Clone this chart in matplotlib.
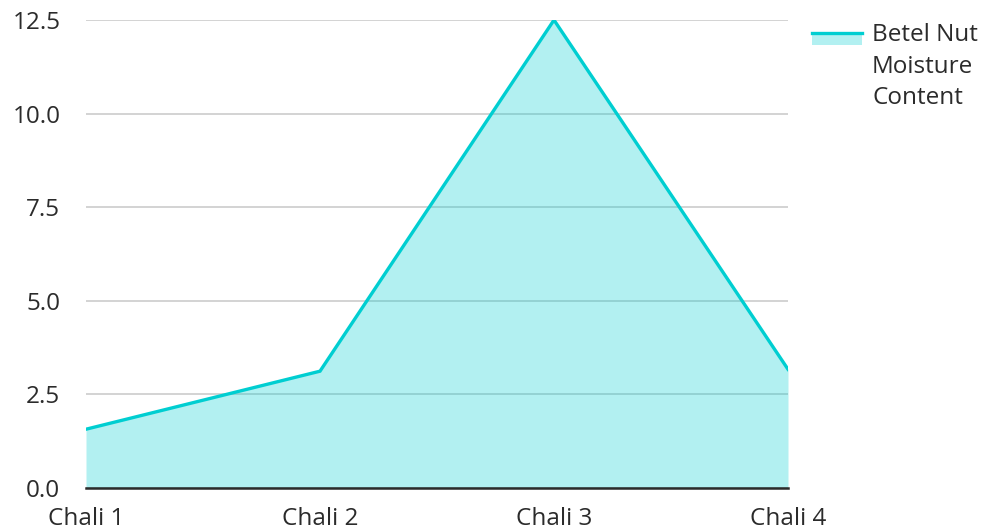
import matplotlib
matplotlib.use("Agg")
import matplotlib.pyplot as plt
import matplotlib.patches as patches
from matplotlib.lines import Line2D

categories = ["Chali 1", "Chali 2", "Chali 3", "Chali 4"]
moisture = [1.57, 3.12, 12.5, 3.17]
y_ticks = [0.0, 2.5, 5.0, 7.5, 10.0, 12.5]
series_name = "Betel Nut\nMoisture\nContent"

LINE = "#00CED1"
TEXT = "#2b2b2b"

plt.rcParams["font.family"] = ["Open Sans", "DejaVu Sans"]

fig = plt.figure(figsize=(9.85, 5.31), dpi=100)
ax = fig.add_axes([86 / 985, 43 / 531, 702 / 985, 468 / 531])

x = list(range(len(categories)))
ax.fill_between(x, moisture, 0, color=LINE, alpha=0.3, linewidth=0, zorder=2)
ax.plot(x, moisture, color=LINE, linewidth=2.4, zorder=3, solid_joinstyle="miter")

ax.set_xlim(0, len(categories) - 1)
ax.set_ylim(0, 12.5)
ax.set_xticks(x)
ax.set_xticklabels(categories)
ax.set_yticks(y_ticks)
ax.set_yticklabels([f"{v:.1f}" for v in y_ticks])
ax.tick_params(axis="both", length=0, labelsize=17.5, labelcolor=TEXT)
ax.tick_params(axis="x", pad=13.5)
ax.tick_params(axis="y", pad=18.5)

ax.grid(axis="y", color="#cccccc", linewidth=1.2, zorder=1)
ax.set_axisbelow(True)
for side in ("left", "right", "top"):
    ax.spines[side].set_visible(False)
ax.spines["bottom"].set_color(TEXT)
ax.spines["bottom"].set_linewidth(1.8)
ax.spines["bottom"].set_zorder(4)

# legend: line over a filled swatch, drawn in figure coordinates
W, H = 985, 531
fig.add_artist(patches.Rectangle((812 / W, 1 - 45 / H), 50 / W, 12 / H,
                                 transform=fig.transFigure, facecolor=LINE,
                                 alpha=0.3, linewidth=0))
fig.add_artist(Line2D([812 / W, 862 / W], [1 - 33 / H, 1 - 33 / H],
                      transform=fig.transFigure, color=LINE, linewidth=2.4))
fig.text(872 / W, 1 - 23 / H, series_name, fontsize=17.5, color=TEXT,
         ha="left", va="top", linespacing=1.43)

fig.savefig("out.png", dpi=100, facecolor="white")
